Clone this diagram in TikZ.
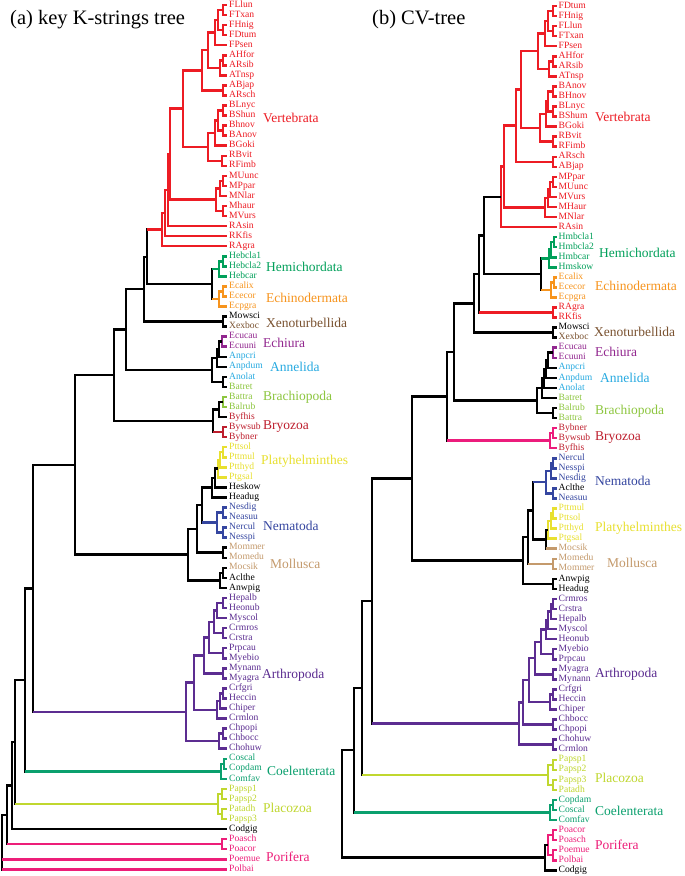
\documentclass[tikz,border=0pt]{standalone}
\usepackage{fontspec}
\setmainfont{Liberation Serif}
\usetikzlibrary{calc}
\definecolor{vert}{HTML}{ED1C24}
\definecolor{hemi}{HTML}{00A05A}
\definecolor{echi}{HTML}{F7941D}
\definecolor{xeno}{HTML}{7A5230}
\definecolor{echiu}{HTML}{92278F}
\definecolor{anne}{HTML}{27AAE1}
\definecolor{brach}{HTML}{8DC63F}
\definecolor{bryo}{HTML}{BE1E2D}
\definecolor{bryoline}{HTML}{EC1C7C}
\definecolor{platy}{HTML}{E8E030}
\definecolor{nema}{HTML}{3546A0}
\definecolor{moll}{HTML}{C49A6C}
\definecolor{arth}{HTML}{5C2D91}
\definecolor{coel}{HTML}{0BA06E}
\definecolor{plac}{HTML}{C0D72F}
\definecolor{pori}{HTML}{ED1E79}
\tikzset{
  brl/.style={line width=2.5pt},
  leaf/.style={anchor=west, inner xsep=2pt, inner ysep=0pt, font=\fontsize{9.6}{10}\selectfont, text height=6.3pt, text depth=2pt},
  clade/.style={anchor=west, inner sep=0pt, font=\fontsize{13.5}{14}\selectfont},
  ttl/.style={anchor=west, inner sep=0pt, font=\fontsize{20.5}{22}\selectfont}
}
% internal node at x=#2, midway between children #3 and #4
\newcommand\tjn[4]{\path let \p1=(#3), \p2=(#4) in coordinate (#1) at ({#2pt},{0.5*(\y1+\y2)});}
% single-colour elbow
\newcommand\ted[3]{\draw[brl,#1] (#2) |- (#3);}
% elbow with vertical colour #1 and horizontal colour #2
\newcommand\tee[4]{\draw[brl,#1,line cap=rect] (#3) -- (#3 |- #4);\draw[brl,#2] (#3 |- #4) -- (#4);}
\newcommand\tpj[5]{\tjn{#1}{#2}{#3}{#4}\ted{#5}{#1}{#3}\ted{#5}{#1}{#4}}
\newcommand\tpm[7]{\tjn{#1}{#2}{#3}{#4}\tee{#5}{#6}{#1}{#3}\tee{#5}{#7}{#1}{#4}}
\begin{document}
\begin{tikzpicture}[x=1pt,y=-1pt]
\fill[white] (0,0) rectangle (685,876);
\useasboundingbox (0,0) rectangle (685,876);
% titles
\node[ttl] (ta) at (10,20) {(a) key K-strings tree};
\node[ttl] (tb) at (372,20) {(b) CV-tree};
% left leaves
\foreach \nm/\cl [count=\i] in {FLlun/vert,FTxan/vert,FHnig/vert,FDtum/vert,FPsen/vert,AHfor/vert,ARsib/vert,ATnsp/vert,ABjap/vert,ARsch/vert,BLnyc/vert,BShun/vert,Bhnov/vert,BAnov/vert,BGoki/vert,RBvit/vert,RFimb/vert,MUunc/vert,MPpar/vert,MNlar/vert,Mhaur/vert,MVurs/vert,RAsin/vert,RKfis/vert,RAgra/vert,Hebcla1/hemi,Hebcla2/hemi,Hebcar/hemi,Ecalix/echi,Ececor/echi,Ecpgra/echi,Mowsci/black,Xexboc/xeno,Ecucau/echiu,Ecuuni/echiu,Anpcri/anne,Anpdum/anne,Anolat/anne,Batret/brach,Battra/brach,Balrub/brach,Byfhis/bryo,Bywsub/bryo,Bybner/bryo,Pttsol/platy,Pttmul/platy,Ptthyd/platy,Ptgsal/platy,Heskow/black,Headug/black,Nesdig/nema,Neasuu/nema,Nercul/nema,Nesspi/nema,Mommer/moll,Momedu/moll,Mocsik/moll,Aclthe/black,Anwpig/black,Hepalb/arth,Heonub/arth,Myscol/arth,Crmros/arth,Crstra/arth,Prpcau/arth,Myebio/arth,Mynann/arth,Myagra/arth,Crfgri/arth,Heccin/arth,Chiper/arth,Crmlon/arth,Chpopi/arth,Chbocc/arth,Chohuw/arth,Coscal/coel,Copdam/coel,Comfav/coel,Papsp1/plac,Papsp2/plac,Patadh/plac,Papsp3/plac,Codgig/black,Poasch/pori,Poacor/pori,Poemue/pori,Polbai/pori}
  {\node[leaf,text=\cl] (a\i) at (227,{5+(\i-1)*10.05}) {\nm};}
% right leaves
\foreach \nm/\cl [count=\i] in {FDtum/vert,FHnig/vert,FLlun/vert,FTxan/vert,FPsen/vert,AHfor/vert,ARsib/vert,ATnsp/vert,BAnov/vert,BHnov/vert,BLnyc/vert,BShum/vert,BGoki/vert,RBvit/vert,RFimb/vert,ARsch/vert,ABjap/vert,MPpar/vert,MUunc/vert,MVurs/vert,MHaur/vert,MNlar/vert,RAsin/vert,Hmbcla1/hemi,Hmbcla2/hemi,Hmbcar/hemi,Hmskow/hemi,Ecalix/echi,Ececor/echi,Ecpgra/echi,RAgra/vert,RKfis/vert,Mowsci/black,Xexboc/xeno,Ecucau/echiu,Ecuuni/echiu,Anpcri/anne,Anpdum/anne,Anolat/anne,Batret/brach,Balrub/brach,Battra/brach,Bybner/bryo,Bywsub/bryo,Byfhis/bryo,Nercul/nema,Nesspi/nema,Nesdig/nema,Aclthe/black,Neasuu/nema,Pttmul/platy,Pttsol/platy,Ptthyd/platy,Ptgsal/platy,Mocsik/moll,Momedu/moll,Mommer/moll,Anwpig/black,Headug/black,Crmros/arth,Crstra/arth,Hepalb/arth,Myscol/arth,Heonub/arth,Myebio/arth,Prpcau/arth,Myagra/arth,Mynann/arth,Crfgri/arth,Heccin/arth,Chiper/arth,Chbocc/arth,Chpopi/arth,Chohuw/arth,Crmlon/arth,Papsp1/plac,Papsp2/plac,Papsp3/plac,Patadh/plac,Copdam/coel,Coscal/coel,Comfav/coel,Poacor/pori,Poasch/pori,Poemue/pori,Polbai/pori,Codgig/black}
  {\node[leaf,text=\cl] (b\i) at (556.5,{6+(\i-1)*10.05}) {\nm};}
% ===== left tree =====
\tpj{L1}{223}{a1}{a2}{vert}
\tpj{L2}{223}{a3}{a4}{vert}
\tpj{L3}{218}{L1}{L2}{vert}
\tpj{L4}{215}{L3}{a5}{vert}
\tpj{L5}{223}{a6}{a7}{vert}
\tpj{L6}{220}{L5}{a8}{vert}
\tpj{L7}{208}{L4}{L6}{vert}
\tpj{L8}{223}{a9}{a10}{vert}
\tpj{L9}{202}{L7}{L8}{vert}
\tpj{L10}{223}{a11}{a12}{vert}
\tpj{L11}{223}{a13}{a14}{vert}
\tpj{L12}{218}{L10}{L11}{vert}
\tpj{L13}{215}{L12}{a15}{vert}
\tpj{L14}{222}{a16}{a17}{vert}
\tpj{L15}{208}{L13}{L14}{vert}
\tpj{L16}{183}{L9}{L15}{vert}
\tpj{L17}{223}{a18}{a19}{vert}
\tpj{L18}{220}{L17}{a20}{vert}
\tpj{L19}{223}{a21}{a22}{vert}
\tpj{L20}{216}{L18}{L19}{vert}
\tpj{L21}{170}{L16}{L20}{vert}
\tpj{L22}{168}{L21}{a23}{vert}
\tpj{L23}{165}{L22}{a24}{vert}
\tpj{L24}{162}{L23}{a25}{vert}
\tpj{L25}{223}{a26}{a27}{hemi}
\tpj{L26}{219}{L25}{a28}{hemi}
\tpj{L27}{223}{a29}{a30}{echi}
\tpj{L28}{219}{L27}{a31}{echi}
\tpm{L29}{212}{L26}{L28}{black}{hemi}{echi}
\tpm{L30}{147}{L24}{L29}{black}{vert}{black}
\tpj{L31}{223}{a32}{a33}{black}
\tpj{L32}{144}{L30}{L31}{black}
\tpj{L33}{222}{a34}{a35}{echiu}
\tpj{L34}{219}{L33}{a36}{black}
\tpj{L35}{217}{L34}{a37}{black}
\tpj{L36}{223}{a38}{a39}{black}
\tpj{L37}{212}{L35}{L36}{black}
\tpj{L38}{126}{L32}{L37}{black}
\tpj{L39}{223}{a40}{a41}{brach}
\tpj{L40}{219}{L39}{a42}{black}
\tpj{L41}{223}{a43}{a44}{bryo}
\tpm{L42}{213}{L40}{L41}{black}{black}{bryo}
\tpj{L43}{114}{L38}{L42}{black}
\tpj{L44}{223}{a45}{a46}{platy}
\tpj{L45}{220}{L44}{a47}{platy}
\tpj{L46}{218}{L45}{a48}{platy}
\tpj{L47}{215}{L46}{a49}{black}
\tpj{L48}{212}{L47}{a50}{black}
\tpj{L49}{223}{a51}{a52}{nema}
\tpj{L50}{223}{a53}{a54}{nema}
\tpj{L51}{217}{L49}{L50}{nema}
\tpm{L52}{202}{L48}{L51}{black}{black}{nema}
\tpj{L53}{223}{a55}{a56}{black}
\tpj{L54}{197}{L52}{L53}{black}
\tpj{L55}{223}{a57}{a58}{black}
\tpj{L56}{220}{L55}{a59}{black}
\tpj{L57}{188}{L54}{L56}{black}
\tpj{L58}{75}{L43}{L57}{black}
\tpj{L59}{223}{a60}{a61}{arth}
\tpj{L60}{217}{L59}{a62}{arth}
\tpj{L61}{223}{a63}{a64}{arth}
\tpj{L62}{214}{L60}{L61}{arth}
\tpj{L63}{223}{a65}{a66}{arth}
\tpj{L64}{209}{L62}{L63}{arth}
\tpj{L65}{223}{a67}{a68}{arth}
\tpj{L66}{204}{L64}{L65}{arth}
\tpj{L67}{223}{a69}{a70}{arth}
\tpj{L68}{220}{L67}{a71}{arth}
\tpj{L69}{217}{L68}{a72}{arth}
\tpj{L70}{194}{L66}{L69}{arth}
\tpj{L71}{223}{a73}{a74}{arth}
\tpj{L72}{219}{L71}{a75}{arth}
\tpj{L73}{186}{L70}{L72}{arth}
\tpm{L74}{33}{L58}{L73}{black}{black}{arth}
\tpj{L75}{224}{a76}{a77}{coel}
\tpj{L76}{221}{L75}{a78}{coel}
\tpm{L77}{25}{L74}{L76}{black}{black}{coel}
\tpj{L78}{222}{a79}{a80}{plac}
\tpj{L79}{222}{a81}{a82}{plac}
\tpj{L80}{218}{L78}{L79}{plac}
\tpm{L81}{15}{L77}{L80}{black}{black}{plac}
\tpj{L82}{12}{L81}{a83}{black}
\tpj{L83}{222}{a84}{a85}{pori}
\tpm{L84}{7}{L82}{L83}{black}{black}{pori}
\tpm{L85}{2}{L84}{a87}{black}{black}{pori}
\tee{black}{pori}{L85}{a86}
% ===== right tree =====
\tpj{R1}{553}{b1}{b2}{vert}
\tpj{R2}{553}{b3}{b4}{vert}
\tpj{R3}{548}{R1}{R2}{vert}
\tpj{R4}{545}{R3}{b5}{vert}
\tpj{R5}{553}{b6}{b7}{vert}
\tpj{R6}{549}{R5}{b8}{vert}
\tpj{R7}{538}{R4}{R6}{vert}
\tpj{R8}{553}{b9}{b10}{vert}
\tpj{R9}{553}{b11}{b12}{vert}
\tpj{R10}{548}{R8}{R9}{vert}
\tpj{R11}{546}{R10}{b13}{vert}
\tpj{R12}{553}{b14}{b15}{vert}
\tpj{R13}{540}{R11}{R12}{vert}
\tpj{R14}{521}{R7}{R13}{vert}
\tpj{R15}{553}{b16}{b17}{vert}
\tpj{R16}{516}{R14}{R15}{vert}
\tpj{R17}{553}{b18}{b19}{vert}
\tpj{R18}{550}{R17}{b20}{vert}
\tpj{R19}{548}{R18}{b21}{vert}
\tpj{R20}{545}{R19}{b22}{vert}
\tpj{R21}{504}{R16}{R20}{vert}
\tpj{R22}{501}{R21}{b23}{vert}
\tpj{R23}{554}{b24}{b25}{hemi}
\tpj{R24}{551}{R23}{b26}{hemi}
\tpj{R25}{549}{R24}{b27}{hemi}
\tpj{R26}{554}{b28}{b29}{echi}
\tpj{R27}{551}{R26}{b30}{echi}
\tpm{R28}{541}{R25}{R27}{black}{hemi}{echi}
\tpj{R29}{484}{R22}{R28}{black}
\tpj{R30}{553}{b31}{b32}{vert}
\tpm{R31}{479}{R29}{R30}{black}{black}{vert}
\tpj{R32}{553}{b33}{b34}{black}
\tpj{R33}{474}{R31}{R32}{black}
\tpj{R34}{553}{b35}{b36}{echiu}
\tpj{R35}{548}{R34}{b37}{black}
\tpj{R36}{546}{R35}{b38}{black}
\tpj{R37}{544}{R36}{b39}{black}
\tpj{R38}{542}{R37}{b40}{black}
\tpj{R39}{553}{b41}{b42}{black}
\tpj{R40}{537}{R38}{R39}{black}
\tpj{R41}{454}{R33}{R40}{black}
\tpj{R42}{553}{b43}{b44}{bryoline}
\tpj{R43}{550}{R42}{b45}{bryoline}
\tpm{R44}{447}{R41}{R43}{black}{black}{bryoline}
\tpj{R45}{553}{b46}{b47}{nema}
\tpj{R46}{551}{R45}{b48}{nema}
\tpj{R47}{553}{b49}{b50}{nema}
\tpj{R48}{546}{R46}{R47}{nema}
\tpj{R49}{553}{b51}{b52}{platy}
\tpj{R50}{551}{R49}{b53}{platy}
\tpj{R51}{548}{R50}{b54}{platy}
\tpm{R52}{546}{R51}{b55}{black}{black}{moll}
\tpm{R53}{533}{R48}{R52}{black}{nema}{black}
\tpj{R54}{553}{b56}{b57}{moll}
\tpm{R55}{528}{R53}{R54}{black}{black}{moll}
\tpj{R56}{553}{b58}{b59}{black}
\tpj{R57}{523}{R55}{R56}{black}
\tpj{R58}{412}{R44}{R57}{black}
\tpj{R59}{553}{b60}{b61}{arth}
\tpj{R60}{551}{R59}{b62}{arth}
\tpj{R61}{548}{R60}{b63}{arth}
\tpj{R62}{546}{R61}{b64}{arth}
\tpj{R63}{553}{b65}{b66}{arth}
\tpj{R64}{541}{R62}{R63}{arth}
\tpj{R65}{553}{b67}{b68}{arth}
\tpj{R66}{535}{R64}{R65}{arth}
\tpj{R67}{553}{b69}{b70}{arth}
\tpj{R68}{550}{R67}{b71}{arth}
\tpj{R69}{529}{R66}{R68}{arth}
\tpj{R70}{553}{b72}{b73}{arth}
\tpj{R71}{523}{R69}{R70}{arth}
\tpj{R72}{553}{b74}{b75}{arth}
\tpj{R73}{519}{R71}{R72}{arth}
\tpm{R74}{372}{R58}{R73}{black}{black}{arth}
\tpj{R75}{553}{b76}{b77}{plac}
\tpj{R76}{553}{b78}{b79}{plac}
\tpj{R77}{548}{R75}{R76}{plac}
\tpm{R78}{362}{R74}{R77}{black}{black}{plac}
\tpj{R79}{553}{b80}{b81}{coel}
\tpj{R80}{550}{R79}{b82}{coel}
\tpm{R81}{354}{R78}{R80}{black}{black}{coel}
\tpj{R82}{553}{b83}{b84}{pori}
\tpj{R83}{553}{b85}{b86}{pori}
\tpj{R84}{548}{R82}{R83}{pori}
\tpj{R85}{545}{R84}{b87}{black}
\tpj{R86}{342}{R81}{R85}{black}
% ===== clade labels, left =====
\node[clade,text=vert]  (cLa) at (263,118) {Vertebrata};
\node[clade,text=hemi]  (cLb) at (266,267) {Hemichordata};
\node[clade,text=echi]  (cLc) at (266,298) {Echinodermata};
\node[clade,text=xeno]  (cLd) at (266,323) {Xenoturbellida};
\node[clade,text=echiu] (cLe) at (263,343) {Echiura};
\node[clade,text=anne]  (cLf) at (270,367) {Annelida};
\node[clade,text=brach] (cLg) at (263,397) {Brachiopoda};
\node[clade,text=bryo]  (cLh) at (263,427) {Bryozoa};
\node[clade,text=platy] (cLi) at (261,461) {Platyhelminthes};
\node[clade,text=nema]  (cLj) at (263,526) {Nematoda};
\node[clade,text=moll]  (cLk) at (270,564) {Mollusca};
\node[clade,text=arth]  (cLl) at (262,675) {Arthropoda};
\node[clade,text=coel]  (cLm) at (267,771) {Coelenterata};
\node[clade,text=plac]  (cLn) at (263,808) {Placozoa};
\node[clade,text=pori]  (cLo) at (266,857) {Porifera};
% ===== clade labels, right =====
\node[clade,text=vert]  (cRa) at (595,117) {Vertebrata};
\node[clade,text=hemi]  (cRb) at (599,253) {Hemichordata};
\node[clade,text=echi]  (cRc) at (595,286) {Echinodermata};
\node[clade,text=xeno]  (cRd) at (594,332) {Xenoturbellida};
\node[clade,text=echiu] (cRe) at (595,352) {Echiura};
\node[clade,text=anne]  (cRf) at (600,378) {Annelida};
\node[clade,text=brach] (cRg) at (595,411) {Brachiopoda};
\node[clade,text=bryo]  (cRh) at (595,438) {Bryozoa};
\node[clade,text=nema]  (cRi) at (595,481) {Nematoda};
\node[clade,text=platy] (cRj) at (595,528) {Platyhelminthes};
\node[clade,text=moll]  (cRk) at (607,563) {Mollusca};
\node[clade,text=arth]  (cRl) at (595,674) {Arthropoda};
\node[clade,text=plac]  (cRm) at (595,778) {Placozoa};
\node[clade,text=coel]  (cRn) at (595,811) {Coelenterata};
\node[clade,text=pori]  (cRo) at (595,845) {Porifera};
\end{tikzpicture}
\end{document}
